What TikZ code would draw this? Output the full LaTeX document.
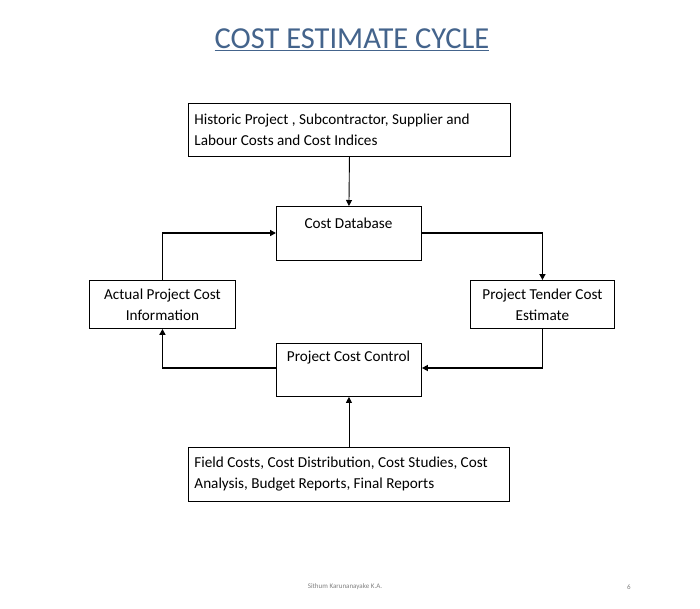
\documentclass[tikz,border=0pt]{standalone}
\usepackage{fontspec}
\setmainfont{Carlito}
\usetikzlibrary{arrows.meta}
\definecolor{titleblue}{RGB}{68,100,140}
\begin{document}
\begin{tikzpicture}[x=1pt,y=-1pt,
  box/.style={draw,line width=0.9pt,inner sep=0pt,font=\fontsize{15.2}{21}\selectfont},
  flow/.style={line width=1.8pt,-{Triangle[length=6pt,width=6pt]}},
  thin/.style={line width=0.9pt,-{Triangle[length=6pt,width=6pt]}}]
\useasboundingbox[fill=white] (0,0) rectangle (700,608);
\node[font=\fontsize{30.5}{32}\selectfont,text=titleblue] (title) at (352,40) {\underline{COST ESTIMATE CYCLE}};
\node[box,minimum width=322,minimum height=53,anchor=north west,align=flush left,text width=310] (hist) at (188,103) {Historic Project , Subcontractor, Supplier and\\Labour Costs and Cost Indices};
\node[box,minimum width=145,minimum height=54,anchor=north west] (db) at (276,206) {};
\node[font=\fontsize{15.2}{17}\selectfont] (dbt) at (348.5,223) {Cost Database};
\node[box,minimum width=146,minimum height=48,anchor=north west,align=center] (act) at (89,280) {Actual Project Cost\\Information};
\node[box,minimum width=144,minimum height=48,anchor=north west,align=center] (ten) at (470,280) {Project Tender Cost\\Estimate};
\node[box,minimum width=145,minimum height=53,anchor=north west] (pcc) at (276,343) {};
\node[font=\fontsize{15.2}{17}\selectfont] (pcct) at (348.5,358) {Project Cost Control};
\node[box,minimum width=321,minimum height=54,anchor=north west,align=flush left,text width=309] (field) at (188,447) {Field Costs, Cost Distribution, Cost Studies, Cost\\Analysis, Budget Reports, Final Reports};
\node[font=\fontsize{7}{8}\selectfont,text=gray] (foot) at (345,587) {Sithum Karunanayake K.A.};
\node[font=\fontsize{7}{8}\selectfont,text=gray] (num) at (629,587) {6};
\draw[thin] (hist.south) -- (db.north);
\draw[flow] (db.east |- 0,233) -| (ten.north);
\draw[flow] (ten.south) |- (pcc.east |- 0,368);
\draw[flow] (pcc.west |- 0,368) -| (act.south);
\draw[flow] (act.north) |- (db.west |- 0,233);
\draw[thin] (field.north) -- (pcc.south);
\end{tikzpicture}
\end{document}
